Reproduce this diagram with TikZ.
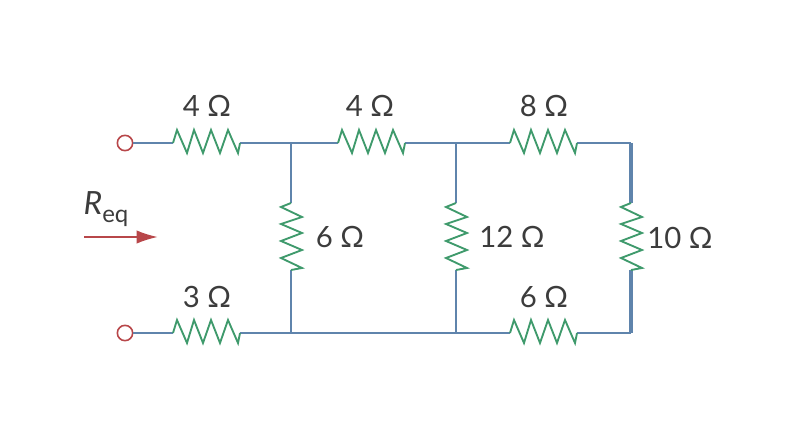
\documentclass[tikz,border=0pt]{standalone}
\usepackage{fontspec}
\setmainfont{Lato}
\usetikzlibrary{arrows.meta}
\definecolor{wirecol}{HTML}{5F84AC}
\definecolor{rescol}{HTML}{3F9A6C}
\definecolor{redcol}{HTML}{B8474A}
\definecolor{textcol}{HTML}{3C3C3C}
\tikzset{
  wire/.style={draw=wirecol,line width=1.8pt},
  res/.style={draw=rescol,line width=1.4pt,line join=miter},
  hres/.pic={\draw[res] (0,0) -- (4,-13) -- (14,10) -- (21,-13) -- (30,10) -- (38,-13) -- (47,10) -- (55,-13) -- (65,10) -- (67,0);},
  vres/.pic={\draw[res] (0,0) -- (4,-10) -- (14,11) -- (21,-10) -- (30,11) -- (38,-10) -- (47,11) -- (55,-10) -- (65,11) -- (67,0);},
  term/.style={circle,draw=redcol,line width=1.2pt,fill=white,inner sep=0pt,minimum size=11.5pt},
  val/.style={text=textcol,font=\fontsize{22}{22}\selectfont,inner sep=0pt}
}
\begin{document}
\begin{tikzpicture}[x=0.75pt,y=-0.75pt]
    \useasboundingbox (0,0) rectangle (799,424);
    \coordinate (n1) at (291,143);
    \coordinate (n2) at (456,143);
    \coordinate (n3) at (631,143);
    \coordinate (s1) at (291,333);
    \coordinate (s2) at (456,333);
    \coordinate (s3) at (631,333);
    \coordinate (r1a) at (173,143); \coordinate (r1b) at (240,143);
    \coordinate (r2a) at (338,143); \coordinate (r2b) at (405,143);
    \coordinate (r3a) at (510,143); \coordinate (r3b) at (577,143);
    \coordinate (r4a) at (173,333); \coordinate (r4b) at (240,333);
    \coordinate (r5a) at (510,333); \coordinate (r5b) at (577,333);
    \coordinate (r6a) at (291,203); \coordinate (r6b) at (291,270);
    \coordinate (r7a) at (456,203); \coordinate (r7b) at (456,270);
    \coordinate (r8a) at (631,203); \coordinate (r8b) at (631,270);
    \node[term] (t1) at (125,143) {};
    \node[term] (t2) at (125,333) {};
    % wires
    \draw[wire] (t1) -- (r1a) (r1b) -- (n1) -- (r2a) (r2b) -- (n2) -- (r3a) (r3b) -- (n3);
    \draw[wire] (t2) -- (r4a) (r4b) -- (s1) -- (s2) -- (r5a) (r5b) -- (s3);
    \draw[wire,line width=2.2pt] (n1) -- (r6a) (r6b) -- (s1);
    \draw[wire,line width=1.5pt] (n2) -- (r7a) (r7b) -- (s2);
    \draw[wire,line width=2.3pt] (n3) -- (r8a) (r8b) -- (s3);
    % resistors
    \foreach \a in {r1a,r2a,r3a,r4a,r5a}
      \pic at (\a) {hres};
    \foreach \a in {r6a,r7a,r8a}
      \pic[rotate=-90,yscale=-1] at (\a) {vres};
    \node[val] (l1) at (207,106) {4 Ω};
    \node[val] (l2) at (370,106) {4 Ω};
    \node[val] (l3) at (544,106) {8 Ω};
    \node[val] (l4) at (207,297) {3 Ω};
    \node[val] (l5) at (544,297) {6 Ω};
    \node[val] (l6) at (340,237) {6 Ω};
    \node[val] (l7) at (512,237) {12 Ω};
    \node[val] (l8) at (680,238) {10 Ω};
    \node[val,font=\fontsize{24}{24}\selectfont] (req) at (106,209) {\textit{R}\raisebox{-0.25em}{\fontsize{18}{18}\selectfont eq}};
    \coordinate (a1) at (84,237);
    \coordinate (a2) at (158,237);
    \draw[draw=redcol,line width=1.5pt,-{Latex[length=16pt,width=10pt]}] (a1) -- (a2);
\end{tikzpicture}
\end{document}
